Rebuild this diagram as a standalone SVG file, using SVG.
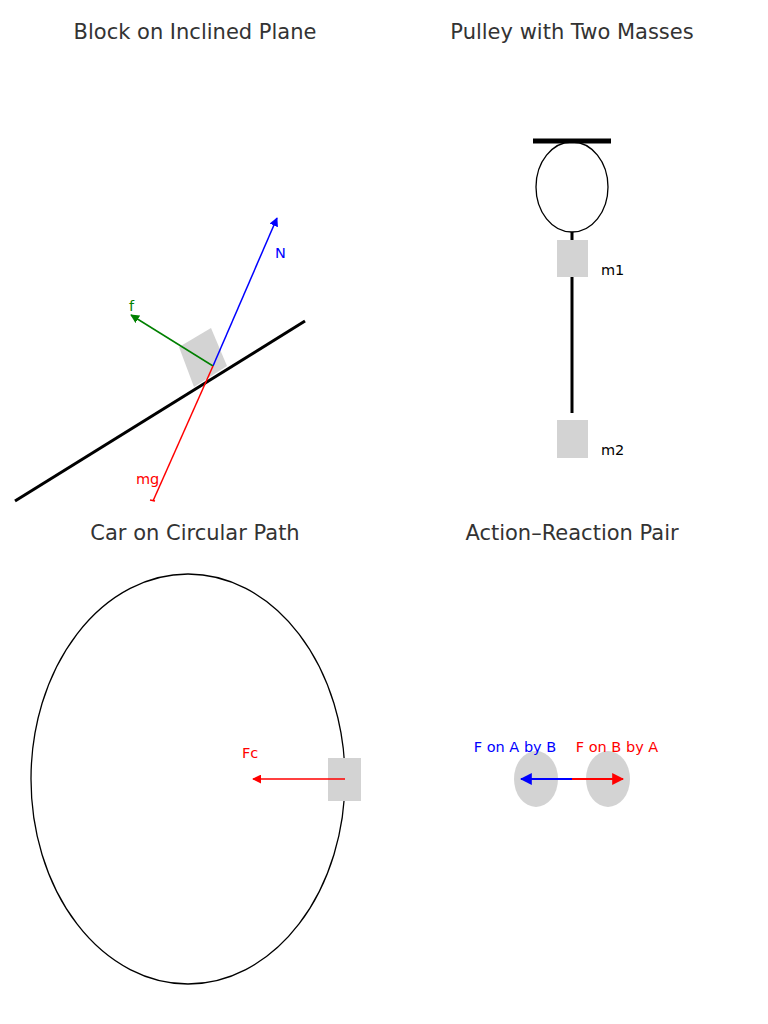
<svg xmlns="http://www.w3.org/2000/svg" width="768" height="1024" viewBox="0 0 768 1024">
<defs>
<style>
.t{font-family:"DejaVu Sans",sans-serif;font-size:21px;fill:#333;text-anchor:middle;}
.l{font-family:"DejaVu Sans",sans-serif;font-size:14.5px;}
.blk{fill:#d3d3d3;}
</style>
<marker id="ab" viewBox="0 0 10 10" refX="9" refY="5" markerWidth="6" markerHeight="6" orient="auto"><path d="M0,0L10,5L0,10z" fill="blue"/></marker>
<marker id="ag" viewBox="0 0 10 10" refX="9" refY="5" markerWidth="6" markerHeight="6" orient="auto"><path d="M0,0L10,5L0,10z" fill="green"/></marker>
<marker id="ar" viewBox="0 0 10 10" refX="9" refY="5" markerWidth="6" markerHeight="6" orient="auto"><path d="M0,0L10,5L0,10z" fill="red"/></marker>
</defs>
<rect width="768" height="1024" fill="#fff"/>
<g id="titles">
<text class="t" x="195" y="39">Block on Inclined Plane</text>
<text class="t" x="572" y="39">Pulley with Two Masses</text>
<text class="t" x="195" y="540">Car on Circular Path</text>
<text class="t" x="572" y="540">Action–Reaction Pair</text>
</g>
<g id="incline">
<line x1="15" y1="501" x2="305" y2="321" stroke="#000" stroke-width="3"/>
<polygon class="blk" points="179,347 211,328 227,366 194,387"/>
</g>
<g id="pulley">
<line x1="533" y1="141" x2="611" y2="141" stroke="#000" stroke-width="5"/>
<ellipse cx="572" cy="187" rx="36" ry="45" fill="none" stroke="#000" stroke-width="1.3"/>
<line x1="572" y1="232" x2="572" y2="413" stroke="#000" stroke-width="3"/>
<rect id="m1" class="blk" x="557" y="240" width="31" height="37"/>
<rect id="m2" class="blk" x="557" y="420" width="31" height="38"/>
<text class="l" x="601" y="275" fill="#000">m1</text>
<text class="l" x="601" y="455" fill="#000">m2</text>
</g>
<g id="circle">
<ellipse cx="188" cy="779" rx="157" ry="205" fill="none" stroke="#000" stroke-width="1.3"/>
<rect id="car" class="blk" x="328" y="758" width="33" height="43"/>
</g>
<g id="pair">
<ellipse class="blk" cx="536" cy="779" rx="22" ry="28"/>
<ellipse class="blk" cx="608" cy="779" rx="22" ry="28"/>
</g>
<g id="connectors">
<line x1="213" y1="366" x2="277" y2="218" stroke="blue" stroke-width="1.5" marker-end="url(#ab)"/>
<line x1="213" y1="366" x2="131" y2="315" stroke="green" stroke-width="1.5" marker-end="url(#ag)"/>
<line x1="213" y1="366" x2="153" y2="501" stroke="red" stroke-width="1.5"/>
<path d="M150,500L155,501" stroke="red" stroke-width="1.5"/>
<line x1="345" y1="779" x2="253" y2="779" stroke="red" stroke-width="1.5" marker-end="url(#ar)"/>
<line x1="572" y1="779" x2="521" y2="779" stroke="blue" stroke-width="2" marker-end="url(#ab)"/>
<line x1="572" y1="779" x2="623" y2="779" stroke="red" stroke-width="2" marker-end="url(#ar)"/>
</g>
<g id="labels" class="l">
<text x="275" y="258" fill="blue">N</text>
<text x="129" y="311" fill="green">f</text>
<text x="136" y="484" fill="red">mg</text>
<text x="242" y="758" fill="red">Fc</text>
<text x="515" y="752" fill="blue" text-anchor="middle">F on A by B</text>
<text x="617" y="752" fill="red" text-anchor="middle">F on B by A</text>
</g>
</svg>
